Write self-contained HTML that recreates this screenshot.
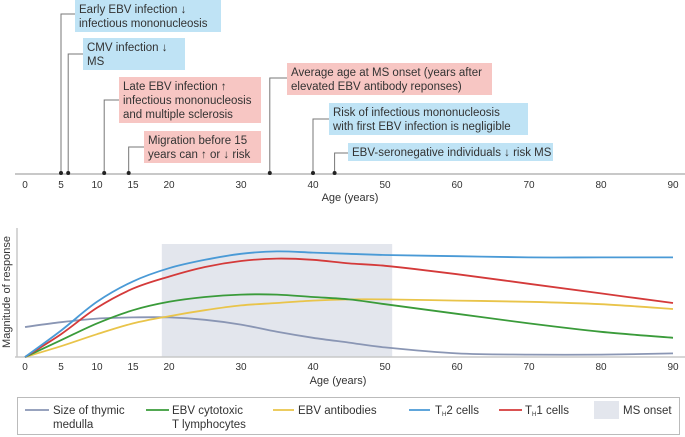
<!DOCTYPE html>
<html><head><meta charset="utf-8"><style>
body{margin:0;width:685px;height:437px;background:#fff;overflow:hidden;font-family:"Liberation Sans",sans-serif;}
svg{display:block}
text{font-family:"Liberation Sans",sans-serif;fill:#333}
</style></head><body>
<svg id="chart" width="685" height="437"></svg>
<script>
const ticks=[0,5,10,15,20,30,40,50,60,70,80,90];
const ages=[0,5,10,15,20,25,30,35,40,45,50,60,70,80,90];
const thymus=[25,29,32,33,33,31,27,21,16,12,8,3,2,2,3];
const ctl=[0,14,28,39,46,50,52,52,50,48,44,36,28,21,16];
const antibodies=[0,9,19,28,34,39,43,45,47,48,48,47,46,44,40];
const th2=[0,22,46,63,74,81,86,88,87,86,85,84,83,83,83];
const th1=[0,19,41,57,67,75,80,82,81,78,76,69,61,53,45];
const msOnset=[19,51];
const events=[
 {age:5,lines:["Early EBV infection ↓","infectious mononucleosis"],c:"#bfe3f5",bx:75,by:0,bw:146,ly:14},
 {age:6,lines:["CMV infection ↓","MS"],c:"#bfe3f5",bx:83,by:38,bw:102,ly:54},
 {age:11,lines:["Late EBV infection ↑","infectious mononucleosis","and multiple sclerosis"],c:"#f7c6c3",bx:119,by:77,bw:142,ly:100},
 {age:14.4,lines:["Migration before 15","years can ↑ or ↓ risk"],c:"#f7c6c3",bx:144,by:131,bw:117,ly:147},
 {age:34,lines:["Average age at MS onset (years after","elevated EBV antibody reponses)"],c:"#f7c6c3",bx:287,by:63,bw:205,ly:78},
 {age:40,lines:["Risk of infectious mononucleosis","with first EBV infection is negligible"],c:"#bfe3f5",bx:329,by:103,bw:199,ly:119},
 {age:43,lines:["EBV-seronegative individuals ↓ risk MS"],c:"#bfe3f5",bx:348,by:143,bw:205,ly:153}
];
const NS="http://www.w3.org/2000/svg";
const svg=document.getElementById('chart');
function mk(t,a,p){const e=document.createElementNS(NS,t);for(const k in a)e.setAttribute(k,a[k]);(p||svg).appendChild(e);return e;}
const xs=a=>25+7.2*a;
const ys=v=>357-1.2*v;
let ax=mk('line',{x1:15,y1:174,x2:685,y2:174,stroke:'#c8c8c8','stroke-width':2});

ticks.forEach(t=>{const e=mk('text',{x:xs(t),y:188,'font-size':10,'text-anchor':'middle'});e.textContent=t;
});
let tt=mk('text',{x:350,y:201,'font-size':11,'text-anchor':'middle'});tt.textContent='Age (years)';

events.forEach(ev=>{
 const g=mk('g',{});
 
 const x=xs(ev.age);
 mk('polyline',{points:`${x},173 ${x},${ev.ly} ${ev.bx},${ev.ly}`,fill:'none',stroke:'#777','stroke-width':1},g);
 mk('circle',{cx:x,cy:173,r:2,fill:'#222'},g);
 const h=ev.lines.length*14+4;
 mk('rect',{x:ev.bx,y:ev.by,width:ev.bw,height:h,fill:ev.c},g);
 ev.lines.forEach((l,i)=>{const t=mk('text',{x:ev.bx+4,y:ev.by+13+i*14,'font-size':11.5},g);t.textContent=l;});
});
let r=mk('rect',{x:xs(msOnset[0]),y:244,width:xs(msOnset[1])-xs(msOnset[0]),height:113,fill:'#e3e6ed'});

let ya=mk('line',{x1:17,y1:228,x2:17,y2:357,stroke:'#c8c8c8','stroke-width':1.5});

let xa=mk('line',{x1:15,y1:357,x2:685,y2:357,stroke:'#c8c8c8','stroke-width':1.5});

ticks.forEach(t=>{const e=mk('text',{x:xs(t),y:370,'font-size':10,'text-anchor':'middle'});e.textContent=t;
});
let bt=mk('text',{x:338,y:384,'font-size':11,'text-anchor':'middle'});bt.textContent='Age (years)';

let yt=mk('text',{x:0,y:0,'font-size':11,'text-anchor':'middle',transform:'translate(10,292) rotate(-90)'});yt.textContent='Magnitude of response';

function pathOf(vals){
 const p=ages.map((a,i)=>[xs(a),ys(vals[i])]);
 let d=`M${p[0][0]},${p[0][1]}`;
 for(let i=0;i<p.length-1;i++){
  const p0=p[i-1]||p[i],p1=p[i],p2=p[i+1],p3=p[i+2]||p2;
  d+=` C${p1[0]+(p2[0]-p0[0])/6},${p1[1]+(p2[1]-p0[1])/6} ${p2[0]-(p3[0]-p1[0])/6},${p2[1]-(p3[1]-p1[1])/6} ${p2[0]},${p2[1]}`;
 }
 return d;
}
const series=[[thymus,'#8a96b4','thymic-medulla-line'],[antibodies,'#e9c44a','ebv-antibodies-line'],[ctl,'#3a9b3a','ebv-ctl-line'],[th1,'#d43a3a','th1-line'],[th2,'#4a9ad6','th2-line']];
series.forEach(s=>{const e=mk('path',{d:pathOf(s[0]),fill:'none',stroke:s[1],'stroke-width':1.8});
});
const lg=mk('g',{});

mk('rect',{x:17.5,y:397.5,width:662,height:37,fill:'none',stroke:'#bbb'},lg);
const items=[[25,49,53,'#8a96b4',['Size of thymic','medulla'],null],[146,169,172,'#3a9b3a',['EBV cytotoxic','T lymphocytes'],null],[273,294,298,'#e9c44a',['EBV antibodies'],null],[409,430,435,'#4a9ad6',['2 cells'],'T'],[499,522,525,'#d43a3a',['1 cells'],'T']];
items.forEach(it=>{
 const g=mk('g',{},lg);
 
 mk('line',{x1:it[0],y1:410,x2:it[1],y2:410,stroke:it[3],'stroke-width':1.8},g);
 it[4].forEach((l,i)=>{const t=mk('text',{x:it[2],y:414+i*14,'font-size':11.5},g);
  if(it[5]){const a=mk('tspan',{},t);a.textContent='T';const b=mk('tspan',{'font-size':6,dy:2},t);b.textContent='H';const c=mk('tspan',{dy:-2},t);c.textContent=l;}
  else t.textContent=l;});
});
const mg=mk('g',{},lg);

mk('rect',{x:594,y:401,width:25,height:18,fill:'#e3e6ed'},mg);
const mt=mk('text',{x:623,y:414,'font-size':11.5},mg);mt.textContent='MS onset';
</script>
</body></html>
